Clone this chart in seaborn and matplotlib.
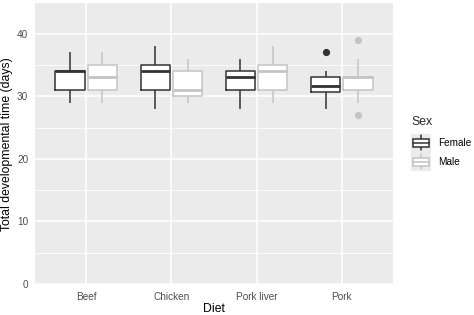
import numpy as np
import pandas as pd
import matplotlib
matplotlib.use("Agg")
import matplotlib.pyplot as plt
import seaborn as sns
from matplotlib.patches import Rectangle
from matplotlib.lines import Line2D
from matplotlib.legend_handler import HandlerBase

# ---- data ----
diets = ["Beef", "Chicken", "Pork liver", "Pork"]
sexes = ["Female", "Male"]
beef_female = [29, 31, 34, 34, 37]
beef_male = [29, 31, 33, 35, 37]
chicken_female = [28, 31, 34, 35, 38]
chicken_male = [29, 30, 31, 34, 36]
porkliver_female = [28, 31, 33, 34, 36]
porkliver_male = [29, 31, 34, 35, 38]
pork_female = [28, 29, 30.75, 31, 31.6, 32, 33, 34, 37]
pork_male = [27, 29, 31, 32, 33, 33, 33, 36, 39]
y_ticks = [0, 10, 20, 30, 40]

groups = {
    ("Beef", "Female"): beef_female, ("Beef", "Male"): beef_male,
    ("Chicken", "Female"): chicken_female, ("Chicken", "Male"): chicken_male,
    ("Pork liver", "Female"): porkliver_female, ("Pork liver", "Male"): porkliver_male,
    ("Pork", "Female"): pork_female, ("Pork", "Male"): pork_male,
}
rows = []
for (d, s), vals in groups.items():
    for v in vals:
        rows.append({"Diet": d, "Sex": s, "time": v})
df = pd.DataFrame(rows)

colors = {"Female": "#333333", "Male": "#C4C4C4"}
FONT = "Liberation Sans"

sns.set_style("white")
plt.rcParams["font.family"] = [FONT, "DejaVu Sans"]

fig = plt.figure(figsize=(4.74, 3.15), dpi=100)
ax = fig.add_axes([35 / 474, 30 / 315, (393 - 35) / 474, (312 - 30) / 315])
ax.set_facecolor("#EBEBEB")

common = dict(data=df, x="Diet", y="time", hue="Sex", order=diets,
              hue_order=sexes, width=0.76, gap=0.1, showcaps=False,
              legend=False, ax=ax)
# white box bodies
sns.boxplot(**common, palette={"Female": "white", "Male": "white"},
            fill=True, linewidth=0, linecolor="white",
            flierprops=dict(marker=""))
n_before = len(ax.containers)
# coloured outlines / medians / whiskers / outliers
sns.boxplot(**common, palette=colors, fill=False, linewidth=1.1,
            medianprops=dict(linewidth=2.0),
            flierprops=dict(marker="o", markersize=4.2))

for cont, sex in zip(ax.containers[n_before:], sexes):
    c = colors[sex]
    for fl in cont.fliers:
        fl.set_markerfacecolor(c)
        fl.set_markeredgecolor(c)
        fl.set_color(c)

ax.set_ylim(-0.15, 44.9)
ax.set_xlim(-0.6, 3.6)
ax.set_yticks(y_ticks)
ax.set_yticks([5, 15, 25, 35], minor=True)
ax.set_axisbelow(True)
ax.grid(which="major", color="white", linewidth=1.1)
ax.grid(which="minor", axis="y", color="white", linewidth=0.55)
for sp in ax.spines.values():
    sp.set_visible(False)
ax.tick_params(axis="both", which="major", length=2.8, width=0.8,
               color="#333333", labelcolor="#4D4D4D", labelsize=7.2, pad=2)
ax.tick_params(axis="both", which="minor", length=0)
ax.set_xlabel("Diet", fontsize=8.8, color="black", labelpad=1)
ax.set_ylabel("Total developmental time (days)", fontsize=8.8, color="black",
              labelpad=3)


class BoxKeyHandler(HandlerBase):
    def __init__(self, color, lw):
        super().__init__()
        self.color = color
        self.lw = lw

    def create_artists(self, legend, orig_handle, xdescent, ydescent,
                       width, height, fontsize, trans):
        bg = Rectangle((-xdescent, -ydescent), width, height,
                       facecolor="#EBEBEB", edgecolor="none", transform=trans)
        cx = -xdescent + width / 2
        bw = width * 0.78
        bh = height * 0.42
        by = -ydescent + (height - bh) / 2
        box = Rectangle((cx - bw / 2, by), bw, bh, facecolor="white",
                        edgecolor=self.color, linewidth=self.lw,
                        transform=trans)
        med = Line2D([cx - bw / 2, cx + bw / 2], [by + bh / 2, by + bh / 2],
                     color=self.color, linewidth=self.lw, transform=trans)
        w1 = Line2D([cx, cx], [-ydescent + height * 0.1, by], color=self.color,
                    linewidth=self.lw, transform=trans)
        w2 = Line2D([cx, cx], [by + bh, -ydescent + height * 0.9],
                    color=self.color, linewidth=self.lw, transform=trans)
        return [bg, w1, w2, box, med]


h_f = Rectangle((0, 0), 1, 1)
h_m = Rectangle((0, 0), 1, 1)
leg = fig.legend([h_f, h_m], sexes, title="Sex", loc="upper left",
                 bbox_to_anchor=(411 / 474, 1 - 116 / 315), frameon=False,
                 fontsize=7.2, title_fontsize=8.8, handlelength=2.0,
                 handleheight=2.5, handletextpad=0.7, labelspacing=0.0,
                 borderpad=0.0, borderaxespad=0.0, alignment="left",
                 handler_map={h_f: BoxKeyHandler(colors["Female"], 1.1),
                              h_m: BoxKeyHandler(colors["Male"], 1.1)})
leg._legend_box.sep = 4
for t in leg.get_texts():
    t.set_color("black")

fig.savefig("out.png", dpi=100)
